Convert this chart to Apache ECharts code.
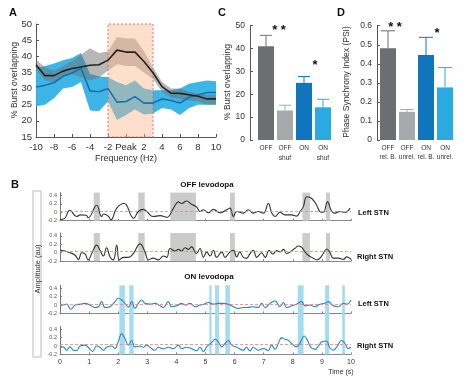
<!DOCTYPE html>
<html><head><meta charset="utf-8">
<script src="https://cdn.jsdelivr.net/npm/echarts@6/dist/echarts.min.js"></script>
<style>html,body{margin:0;padding:0;background:#fff}#c{width:474px;height:385px}</style>
</head><body><div id="c"></div>
<script>
// ---------- Panel A data ----------
const freqs = [-10,-9,-8,-7,-6,-5,-4,-3,-2,-1,0,1,2,3,4,5,6,7,8,9,10];
const offMean  = [37.4,34.0,34.0,35.4,36.2,36.7,37.2,37.4,38.8,41.9,41.3,41.3,38.4,34.9,30.6,28.6,28.5,28.1,27.6,26.8,26.8];
const offUpper = [39.0,36.5,35.5,37.0,38.5,40.5,42.5,41.0,41.5,46.0,45.5,45.5,41.5,36.5,32.0,30.0,30.0,29.0,28.5,28.0,28.0];
const offLower = [36.0,32.5,32.0,33.5,34.5,33.5,32.5,33.5,35.5,37.5,37.0,37.0,35.0,33.0,29.0,27.2,26.8,26.3,26.0,25.0,25.0];
const onMean   = [30.5,31.0,31.8,33.8,34.8,36.3,29.3,29.0,30.0,25.8,26.0,27.5,25.5,25.5,26.8,26.3,25.5,27.3,28.0,28.8,28.8];
const onUpper  = [36.3,37.0,37.8,38.8,39.5,41.0,34.5,33.8,33.5,32.0,31.0,32.5,30.0,29.5,29.5,29.5,30.0,31.5,32.0,32.5,32.3];
const onLower  = [24.5,25.0,27.0,30.0,30.5,32.0,23.2,23.0,26.0,20.3,21.8,23.5,22.0,22.3,24.0,23.5,21.8,24.0,25.0,25.0,25.0];
const peakWindow = [-2, 3];

// ---------- Panel C data ----------
const burstCats = ['OFF','OFF\nshuf','ON','ON\nshuf'];
const burstVals = [41.0,12.9,25.0,14.3];
const burstErrTop = [45.8,15.2,27.8,17.8];

// ---------- Panel D data ----------
const psiCats = ['OFF\nrel. B.','OFF\nunrel.','ON\nrel. B.','ON\nunrel.'];
const psiVals = [0.482,0.148,0.446,0.276];
const psiErrTop = [0.573,0.160,0.539,0.380];

// ---------- Panel B data ----------
const offLeftT = [0,0.15,0.34,0.57,0.7,0.9,0.97,1.26,1.43,1.5,1.67,1.75,1.95,2.2,2.46,2.53,2.69,2.86,2.98,3.2,3.44,3.67,3.9,4.07,4.18,4.35,4.52,4.69,4.81,4.93,5.1,5.27,5.5,5.73,5.84,5.96,6.07,6.3,6.47,6.64,6.81,6.99,7.16,7.28,7.39,7.56,7.73,7.96,8.13,8.25,8.36,8.48,8.65,8.82,8.93,9.05,9.19,9.34,9.45,9.62,9.79,9.97];
const offLeftV = [-0.17,-0.15,0.05,-0.10,-0.06,-0.07,-0.13,0.17,-0.10,-0.04,-0.10,-0.18,0.10,0.21,-0.10,-0.14,0.02,0.07,0.02,-0.10,-0.08,-0.12,0.10,0.25,0.21,0.27,0.19,0.13,0.02,0.06,-0.01,0.07,-0.01,0.06,0.10,-0.10,0.02,-0.02,0.06,-0.02,0.02,-0.02,0.21,-0.02,-0.10,0.0,-0.06,-0.06,-0.09,0.02,0.13,0.37,0.33,0.17,0.02,0.0,0.25,0.02,-0.02,0.02,0.0,0.10];
const offRightT = [0,0.17,0.34,0.52,0.63,0.75,0.86,0.97,1.09,1.26,1.38,1.49,1.6,1.72,1.83,1.95,2.04,2.18,2.35,2.52,2.75,2.92,3.04,3.2,3.38,3.55,3.67,3.78,3.95,4.07,4.18,4.3,4.41,4.52,4.69,4.81,4.93,5.04,5.16,5.27,5.38,5.56,5.67,5.84,5.96,6.07,6.18,6.3,6.41,6.53,6.64,6.76,6.93,7.05,7.19,7.31,7.45,7.56,7.68,7.79,7.91,8.07,8.19,8.3,8.42,8.53,8.7,8.84,8.99,9.17,9.28,9.39,9.56,9.74,9.85,10];
const offRightV = [0.06,0.04,0.0,-0.06,-0.16,0.0,-0.03,-0.17,-0.02,0.18,0.05,-0.08,0.12,-0.10,-0.17,0.18,-0.17,-0.11,-0.11,-0.02,0.21,0.02,-0.17,-0.13,-0.17,-0.08,-0.11,0.10,0.04,0.08,0.04,0.12,0.08,0.14,-0.02,0.10,-0.11,0.02,-0.08,0.06,-0.11,0.02,-0.11,0.02,0.06,-0.10,0.02,-0.11,-0.13,-0.02,0.06,-0.11,0.0,-0.11,0.06,-0.03,0.05,0.02,0.08,-0.02,0.02,0.10,0.16,0.13,0.02,-0.06,-0.13,-0.17,-0.08,0.09,0.0,-0.13,-0.13,-0.16,-0.10,-0.16];
const onLeftT = [0,0.11,0.23,0.37,0.52,0.69,0.86,1.03,1.2,1.32,1.43,1.55,1.72,1.89,2.0,2.12,2.23,2.35,2.46,2.58,2.69,2.81,2.92,3.09,3.26,3.44,3.55,3.72,3.84,4.01,4.18,4.3,4.47,4.64,4.81,4.95,5.1,5.27,5.44,5.61,5.78,5.96,6.13,6.3,6.41,6.64,6.81,6.93,7.05,7.22,7.39,7.56,7.68,7.79,7.96,8.13,8.3,8.42,8.59,8.76,8.93,9.1,9.22,9.39,9.56,9.74,9.85,10];
const onLeftV = [0.04,0.0,0.02,-0.10,0.0,0.02,0.04,0.0,-0.06,-0.04,0.08,-0.06,-0.04,0.08,0.16,0.12,0.04,-0.05,0.08,-0.08,0.04,0.12,0.04,0.02,0.04,-0.02,-0.06,0.08,-0.04,-0.02,0.04,0.0,0.04,-0.04,0.0,0.02,0.06,0.02,0.04,0.04,0.02,-0.04,-0.08,-0.06,-0.06,-0.04,-0.06,0.04,-0.06,0.04,0.10,-0.04,0.06,-0.06,-0.02,0.02,0.08,-0.02,0.0,-0.04,0.02,0.04,0.08,-0.02,-0.04,0.04,0.02,0.12];
const onRightT = [0,0.11,0.23,0.34,0.46,0.57,0.69,0.86,0.97,1.12,1.26,1.38,1.49,1.6,1.78,1.89,2.0,2.12,2.23,2.35,2.46,2.58,2.75,2.86,2.98,3.09,3.26,3.38,3.55,3.72,3.9,4.07,4.18,4.35,4.52,4.7,4.81,4.93,5.04,5.21,5.33,5.44,5.56,5.67,5.78,5.9,6.07,6.3,6.41,6.53,6.64,6.81,6.99,7.16,7.27,7.39,7.5,7.62,7.73,7.85,7.96,8.13,8.27,8.39,8.5,8.61,8.76,8.88,9.0,9.16,9.26,9.39,9.51,9.68,9.79,9.91,10];
const onRightV = [-0.03,-0.02,-0.10,-0.02,-0.10,-0.11,0.0,0.02,-0.03,-0.13,0.0,-0.03,-0.10,-0.03,0.0,-0.06,0.10,0.29,0.18,0.02,0.13,-0.02,0.0,-0.03,0.02,-0.03,-0.10,-0.03,-0.07,-0.03,-0.06,0.02,-0.06,-0.03,-0.06,-0.11,-0.03,-0.13,-0.02,0.08,0.16,0.10,-0.02,0.06,0.13,0.02,-0.03,-0.10,-0.03,-0.12,-0.03,-0.10,-0.06,-0.11,0.02,-0.08,0.06,0.20,0.16,0.13,0.06,-0.02,0.10,0.24,0.14,-0.02,-0.08,0.0,0.10,0.12,-0.03,-0.10,-0.02,0.13,0.06,-0.06,-0.03];
const thresholds = [0.03, 0.03, 0.01, 0.05]; // OFF L, OFF R, ON L, ON R
const offBursts = [[1.16,1.37],[2.69,2.91],[3.79,4.67],[5.84,6.01],[8.33,8.59],[9.14,9.28]];
const onBursts  = [[2.04,2.23],[2.38,2.53],[5.13,5.21],[5.33,5.47],[5.68,5.84],[8.17,8.37],[9.11,9.25],[9.70,9.79]];

// ---------- build option ----------
const FF = 'Liberation Sans, Arial, sans-serif';
const TXT = '#333';
const pair = (xs, ys) => xs.map((x, i) => [x, ys[i]]);
const diff = (u, l) => u.map((v, i) => +(v - l[i]).toFixed(3));
const barColors = ['#6d6e71', '#a7a9ac', '#0f75bc', '#29aae1'];
const freqCats = freqs.map(String);

function errRender(halfCap) {
  return function (params, api) {
    const i = api.value(0);
    const a = api.coord([i, api.value(1)]);
    const b = api.coord([i, api.value(2)]);
    const col = barColors[params.dataIndex];
    return { type: 'group', children: [
      { type: 'line', shape: { x1: a[0], y1: a[1], x2: b[0], y2: b[1] }, style: { stroke: col, lineWidth: 1 } },
      { type: 'line', shape: { x1: b[0] - halfCap, y1: b[1], x2: b[0] + halfCap, y2: b[1] }, style: { stroke: col, lineWidth: 1 } }
    ]};
  };
}

const bGridTops = [192.6, 233.0, 285.3, 326.3];
const bH = 28.1;

const grids = [
  { left: 36, top: 24, width: 180, height: 113 },
  { left: 256.5, top: 25.7, width: 76, height: 114.3 },
  { left: 378.5, top: 25.7, width: 76, height: 114.3 },
];
bGridTops.forEach(t => grids.push({ left: 60, top: t, width: 291, height: bH }));
grids.push({ left: 60, top: 285.3, width: 291, height: 69.1 }); // ON overlay
grids.forEach(g => g.outerBoundsMode = 'none');

const axisLineGrey = { show: true, onZero: false, lineStyle: { color: '#555', width: 1 } };

const xAxes = [
  { gridIndex: 0, type: 'category', data: freqCats, boundaryGap: false, axisLine: axisLineGrey,
    axisTick: { inside: true, length: 3, interval: 1, lineStyle: { color: '#555' } }, splitLine: { show: false },
    axisLabel: { fontSize: 9.5, color: TXT, fontFamily: FF, margin: 5, interval: 1, formatter: v => v === '0' ? 'Peak' : v } },
  { gridIndex: 1, type: 'category', data: burstCats, axisLine: { show: false }, axisTick: { show: false },
    axisLabel: { fontSize: 6.5, lineHeight: 10, color: TXT, fontFamily: FF, margin: 3, interval: 0 } },
  { gridIndex: 2, type: 'category', data: psiCats, axisLine: { show: false }, axisTick: { show: false },
    axisLabel: { fontSize: 6.5, lineHeight: 9.5, color: TXT, fontFamily: FF, margin: 3, interval: 0 } },
];
for (let k = 0; k < 4; k++) {
  xAxes.push({ gridIndex: 3 + k, type: 'value', min: 0, max: 10, interval: 1,
    axisLine: { show: true, onZero: false, lineStyle: { color: '#888', width: 1 } },
    axisTick: { show: true, inside: true, length: 2, lineStyle: { color: '#888' } },
    splitLine: { show: false },
    axisLabel: { show: k === 3, fontSize: 7, color: TXT, fontFamily: FF, margin: 4 } });
}
xAxes.push({ gridIndex: 7, type: 'value', min: 0, max: 10, show: false });

const yAxes = [
  { gridIndex: 0, type: 'value', min: 15, max: 50, interval: 5, axisLine: axisLineGrey,
    axisTick: { show: true, inside: true, length: 3, lineStyle: { color: '#555' } }, splitLine: { show: false },
    axisLabel: { fontSize: 9.5, color: TXT, fontFamily: FF, margin: 4 } },
  { gridIndex: 1, type: 'value', min: 0, max: 50, interval: 10, offset: 6.5, axisLine: axisLineGrey,
    axisTick: { show: true, inside: true, length: 3 }, splitLine: { show: false },
    axisLabel: { fontSize: 8.5, color: TXT, fontFamily: FF, margin: 5 } },
  { gridIndex: 2, type: 'value', min: 0, max: 0.6, interval: 0.1, offset: 1.5, axisLine: axisLineGrey,
    axisTick: { show: true, inside: true, length: 3 }, splitLine: { show: false },
    axisLabel: { fontSize: 8.5, color: TXT, fontFamily: FF, margin: 5 } },
];
for (let k = 0; k < 4; k++) {
  yAxes.push({ gridIndex: 3 + k, type: 'value', min: -0.2, max: 0.47, interval: 0.2,
    axisLine: { show: true, onZero: false, lineStyle: { color: '#777', width: 1 } },
    axisTick: { show: true, inside: true, length: 2, lineStyle: { color: '#777' } },
    splitLine: { show: false },
    axisLabel: { fontSize: 5.5, color: '#555', fontFamily: FF, margin: 3, showMaxLabel: false,
      formatter: v => (Math.abs(v) < 1e-9 ? '0' : String(+v.toFixed(1))) } });
}
yAxes.push({ gridIndex: 7, type: 'value', min: 0, max: 1, show: false });

const noLine = { width: 0, opacity: 0 };
const series = [
  // Panel A bands
  { type: 'line', xAxisIndex: 0, yAxisIndex: 0, stack: 'onBand', data: onLower, symbol: 'none', lineStyle: noLine, z: 2, silent: true },
  { type: 'line', xAxisIndex: 0, yAxisIndex: 0, stack: 'onBand', data: diff(onUpper, onLower), symbol: 'none', lineStyle: noLine,
    areaStyle: { color: '#33b2e6', opacity: 0.95 }, z: 2, silent: true },
  { type: 'line', xAxisIndex: 0, yAxisIndex: 0, stack: 'offBand', data: offLower, symbol: 'none', lineStyle: noLine, z: 2, silent: true },
  { type: 'line', xAxisIndex: 0, yAxisIndex: 0, stack: 'offBand', data: diff(offUpper, offLower), symbol: 'none', lineStyle: noLine,
    areaStyle: { color: '#707070', opacity: 0.5 }, z: 2, silent: true },
  // peak window (drawn over the bands, under the mean lines)
  { type: 'line', xAxisIndex: 0, yAxisIndex: 0, data: [], z: 3, silent: true,
    markArea: { z: 3, silent: true, itemStyle: { color: 'rgba(250,185,140,0.45)', borderColor: '#e05a5a', borderType: [2, 2], borderWidth: 0.8 },
      data: [[{ xAxis: String(peakWindow[0]), yAxis: 15 }, { xAxis: String(peakWindow[1]), yAxis: 50 }]] } },
  { type: 'line', xAxisIndex: 0, yAxisIndex: 0, data: onMean, symbol: 'none', lineStyle: { color: '#1273ad', width: 1.6 }, z: 4 },
  { type: 'line', xAxisIndex: 0, yAxisIndex: 0, data: offMean, symbol: 'none', lineStyle: { color: '#222', width: 1.6 }, z: 4 },
  // Panel C
  { type: 'bar', xAxisIndex: 1, yAxisIndex: 1, barWidth: 16, z: 2,
    data: burstVals.map((v, i) => ({ value: v, itemStyle: { color: barColors[i] } })) },
  { type: 'custom', xAxisIndex: 1, yAxisIndex: 1, renderItem: errRender(6), z: 3,
    data: burstVals.map((v, i) => [i, v, burstErrTop[i]]) },
  // Panel D
  { type: 'bar', xAxisIndex: 2, yAxisIndex: 2, barWidth: 16, z: 2,
    data: psiVals.map((v, i) => ({ value: v, itemStyle: { color: barColors[i] } })) },
  { type: 'custom', xAxisIndex: 2, yAxisIndex: 2, renderItem: errRender(7), z: 3,
    data: psiVals.map((v, i) => [i, v, psiErrTop[i]]) },
];

// Panel B
const traces = [[offLeftT, offLeftV], [offRightT, offRightV], [onLeftT, onLeftV], [onRightT, onRightV]];
traces.forEach((tr, k) => {
  const isOff = k < 2;
  if (isOff) {
    series.push({ type: 'line', xAxisIndex: 3 + k, yAxisIndex: 3 + k, data: [], z: 1, silent: true,
      markArea: { z: 1, silent: true, itemStyle: { color: '#cbcbcb' },
        data: offBursts.map(b => [{ xAxis: b[0] }, { xAxis: b[1] }]) } });
  }
  series.push({ type: 'line', xAxisIndex: 3 + k, yAxisIndex: 3 + k, data: pair(tr[0], tr[1]), symbol: 'none', smooth: 0.45,
    lineStyle: { color: isOff ? '#333' : '#1d8cc6', width: 1.1 }, z: 3,
    markLine: { silent: true, symbol: 'none', label: { show: false },
      lineStyle: { color: '#e8837d', type: [3, 2], width: 0.8 }, data: [{ yAxis: thresholds[k] }] } });
});
series.push({ type: 'line', xAxisIndex: 7, yAxisIndex: 7, data: [], z: 1, silent: true,
  markArea: { z: 1, silent: true, itemStyle: { color: '#a6dbef' }, data: onBursts.map(b => [{ xAxis: b[0] }, { xAxis: b[1] }]) } });

function txt(x, y, s, o) {
  o = o || {};
  return { type: 'text', x: x, y: y, rotation: o.rot || 0, z: 20,
    style: { text: s, fontSize: o.size || 9, fontWeight: o.bold ? 'bold' : 'normal', fontFamily: FF,
      fill: o.color || TXT, align: o.align || 'center', verticalAlign: 'middle' } };
}

const graphic = [
  txt(13, 13, 'A', { size: 11, bold: true, color: '#111' }),
  txt(222, 13, 'C', { size: 11, bold: true, color: '#111' }),
  txt(341, 13, 'D', { size: 11, bold: true, color: '#111' }),
  txt(15, 185, 'B', { size: 11, bold: true, color: '#111' }),
  txt(15, 80, '% Burst overlapping', { size: 8.5, rot: Math.PI / 2 }),
  txt(126, 159, 'Frequency (Hz)', { size: 9 }),
  txt(228, 82, '% Burst overlapping', { size: 8.5, rot: Math.PI / 2 }),
  txt(347, 82, 'Phase Synchrony Index (PSI)', { size: 8.5, rot: Math.PI / 2 }),
  txt(279, 30, '* *', { size: 13, bold: true, color: '#111' }),
  txt(315, 65, '*', { size: 13, bold: true, color: '#111' }),
  txt(395, 27, '* *', { size: 13, bold: true, color: '#111' }),
  txt(437, 33, '*', { size: 13, bold: true, color: '#111' }),
  txt(207, 185, 'OFF levodopa', { size: 8, bold: true, color: '#111' }),
  txt(209, 277, 'ON levodopa', { size: 8, bold: true, color: '#111' }),
  txt(358, 213, 'Left STN', { size: 7.5, bold: true, color: '#111', align: 'left' }),
  txt(357, 257, 'Right STN', { size: 7.5, bold: true, color: '#111', align: 'left' }),
  txt(358, 304, 'Left STN', { size: 7.5, bold: true, color: '#111', align: 'left' }),
  txt(357, 346, 'Right STN', { size: 7.5, bold: true, color: '#111', align: 'left' }),
  txt(341, 372, 'Time (s)', { size: 7 }),
  { type: 'rect', shape: { x: 33, y: 191, width: 8, height: 166 }, z: 5,
    style: { fill: '#fff', stroke: '#bbb', lineWidth: 1 } },
  txt(37.5, 269, 'Amplitude (au)', { size: 7.5, rot: Math.PI / 2 }),
];

const chart = echarts.init(document.getElementById('c'), null, { renderer: 'canvas' });
chart.setOption({ animation: false, backgroundColor: '#fff', grid: grids, xAxis: xAxes, yAxis: yAxes, series: series, graphic: graphic });
</script></body></html>
